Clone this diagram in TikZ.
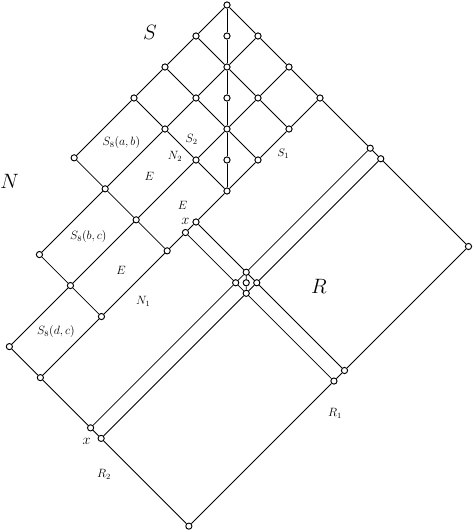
\documentclass[tikz,border=0pt]{standalone}
\begin{document}
\begin{tikzpicture}[x=1pt,y=1pt,
  dot/.style={circle,draw,fill=white,inner sep=0pt,minimum size=6.2pt,line width=0.95pt},
  edge/.style={line width=0.75pt},
  big/.style={font=\huge},
  lab/.style={font=\large},
  sml/.style={font=\fontsize{10.95}{13}\selectfont},
  xl/.style={font=\Large}]
\useasboundingbox (-227,5) rectangle (247,-525);
\begin{scope}[x={(31pt,-31pt)},y={(-31pt,-31pt)}]
  % S lattice
  \foreach \u in {0,...,3}{\foreach \v in {0,...,3}{\node[dot] (s\u\v) at (\u,\v) {};}}
  \node[dot] (m0) at (0.5,0.5) {};
  \node[dot] (m1) at (1.5,1.5) {};
  \node[dot] (m2) at (2.5,2.5) {};
  % strips
  \node[dot] (a0) at (0,4.93) {};
  \node[dot] (a1) at (1,4.93) {};
  \node[dot] (a2) at (2,4.93) {};
  \node[dot] (a3) at (3,4.93) {};
  \node[dot] (b1) at (1,7.05) {};
  \node[dot] (b2) at (2,7.05) {};
  \node[dot] (b3) at (3,7.05) {};
  \node[dot] (c2) at (2,9.02) {};
  \node[dot] (c3) at (3,9.02) {};
  \node[dot] (x1) at (3,4) {};
  \node[dot] (x2) at (3,4.34) {};
  % right part
  \node[dot] (p1) at (4.62,0) {};
  \node[dot] (p2) at (4.96,0) {};
  \node[dot] (p3) at (7.79,0) {};
  \node[dot] (q1) at (4.62,9.02) {};
  \node[dot] (q2) at (4.96,9.02) {};
  \node[dot] (q3) at (7.79,9.02) {};
  \node[dot] (dt) at (4.62,4) {};
  \node[dot] (dl) at (4.62,4.34) {};
  \node[dot] (dr) at (4.96,4) {};
  \node[dot] (db) at (4.96,4.34) {};
  \node[dot] (dc) at (4.79,4.17) {};
  \node[dot] (r1) at (7.79,4) {};
  \node[dot] (r2) at (7.79,4.34) {};
\end{scope}
% "/" lines
\draw[edge] (s00)--(s01)--(s02)--(s03)--(a0);
\draw[edge] (s10)--(s11)--(s12)--(s13)--(a1)--(b1);
\draw[edge] (s20)--(s21)--(s22)--(s23)--(a2)--(b2)--(c2);
\draw[edge] (s30)--(s31)--(s32)--(s33)--(x1)--(x2)--(a3)--(b3)--(c3);
\draw[edge] (p1)--(dt)--(dl)--(q1);
\draw[edge] (p2)--(dr)--(db)--(q2);
\draw[edge] (p3)--(r1)--(r2)--(q3);
% "\" lines
\draw[edge] (s00)--(s10)--(s20)--(s30)--(p1)--(p2)--(p3);
\draw[edge] (s01)--(s11)--(s21)--(s31);
\draw[edge] (s02)--(s12)--(s22)--(s32);
\draw[edge] (s03)--(s13)--(s23)--(s33);
\draw[edge] (x1)--(dt)--(dr)--(r1);
\draw[edge] (x2)--(dl)--(db)--(r2);
\draw[edge] (a0)--(a1)--(a2)--(a3);
\draw[edge] (b1)--(b2)--(b3);
\draw[edge] (c2)--(c3)--(q1)--(q2)--(q3);
% vertical lines
\draw[edge] (s00)--(m0)--(s11)--(m1)--(s22)--(m2)--(s33);
\draw[edge] (dt)--(dc)--(db);
% labels
\node[big] (lS) at (-77,-27) {$S$};
\node[big] (lN) at (-217.5,-176) {$N$};
\node[big] (lR) at (92,-281.5) {$R$};
\node[lab] (lab1) at (-105.7,-137.3) {$S_8(a,b)$};
\node[lab] (lS2) at (-35.3,-134.3) {$S_2$};
\node[lab] (lN2) at (-52,-151) {$N_2$};
\node[lab] (lE1) at (-77.7,-171.7) {$E$};
\node[lab] (lE2) at (-44.3,-200) {$E$};
\node[xl] (lx1) at (-41.7,-216.7) {$x$};
\node[lab] (lbc) at (-138.7,-231.7) {$S_8(b,c)$};
\node[lab] (lE3) at (-106,-265.7) {$E$};
\node[lab] (lN1) at (-83.7,-296.7) {$N_1$};
\node[lab] (ldc) at (-171,-326.7) {$S_8(d,c)$};
\node[xl] (lx2) at (-140.3,-436.7) {$x$};
\node[lab] (lR2) at (-123,-469) {$R_2$};
\node[lab] (lR1) at (108,-408.3) {$R_1$};
\node[sml] (lS1) at (56.3,-149) {$S_1$};
\end{tikzpicture}
\end{document}
